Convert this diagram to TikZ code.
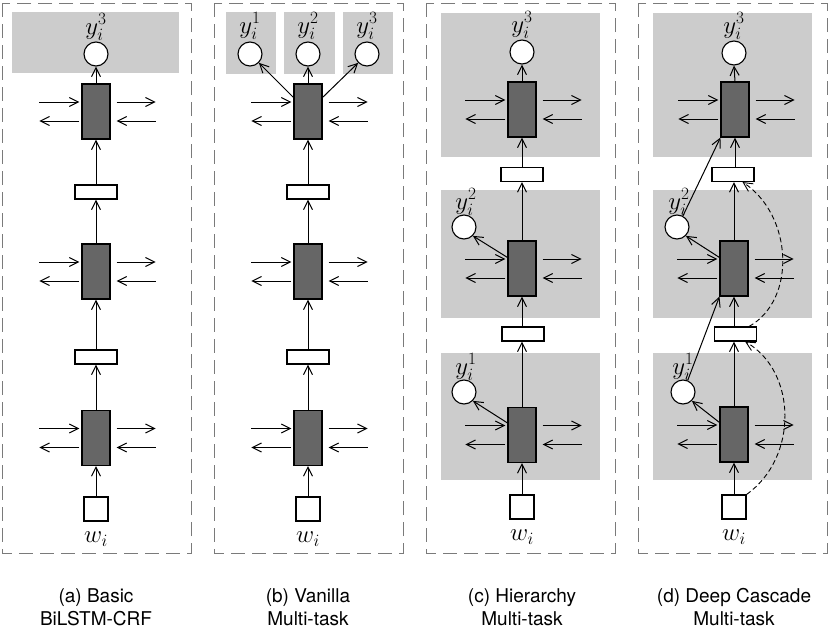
\documentclass[tikz,border=0pt]{standalone}
\usepackage{fontspec}
\newfontfamily\capfont{TeX Gyre Heros}
\usetikzlibrary{arrows.meta,calc}
\definecolor{cellgray}{HTML}{666666}
\definecolor{taskgray}{HTML}{CCCCCC}
\definecolor{bordergray}{HTML}{7A7A7A}
\tikzset{
 lstm/.style={draw, line width=1.1pt, fill=cellgray, minimum width=28pt, minimum height=55pt, inner sep=0pt},
 emb/.style={draw, line width=1.1pt, fill=white, minimum width=42pt, minimum height=14pt, inner sep=0pt},
 inp/.style={draw, line width=1.1pt, fill=white, minimum size=24pt, inner sep=0pt},
 outnode/.style={draw, circle, line width=1.1pt, fill=white, minimum size=24pt, inner sep=0pt},
 arr/.style={line width=1pt, -{Straight Barb[length=9pt,width=9pt]}},
 darr/.style={line width=0.9pt, dash pattern=on 5pt off 3pt, -{Straight Barb[length=9pt,width=9pt]}},
 lab/.style={inner sep=0pt, font=\fontsize{25}{29}\selectfont},
 captext/.style={align=center, inner sep=0pt, font=\capfont\fontsize{19}{23}\selectfont},
 panel/.style={draw=bordergray, line width=1pt, dash pattern=on 14pt off 7pt},
 task/.style={fill=taskgray},
}
\newcommand\lstmcell[3]{%
 \node[lstm] (#1) at (#2,#3) {};
 \draw[arr] ($(#1.west)+(-42,-9.5)$) -- ($(#1.west)+(-2,-9.5)$);
 \draw[arr] ($(#1.west)+(-2,9.5)$) -- ($(#1.west)+(-42,9.5)$);
 \draw[arr] ($(#1.east)+(6,-9.5)$) -- ($(#1.east)+(45,-9.5)$);
 \draw[arr] ($(#1.east)+(45,9.5)$) -- ($(#1.east)+(6,9.5)$);
}
\begin{document}
\begin{tikzpicture}[x=1pt,y=-1pt]
\useasboundingbox (0,0) rectangle (832,629);
\fill[white] (0,0) rectangle (832,629);
% ---------- panel borders ----------
\draw[panel] (2,3) rectangle (191,553);
\draw[panel] (214,3) rectangle (403,553);
\draw[panel] (426,3) rectangle (615,553);
\draw[panel] (638,3) rectangle (827,553);
% ---------- task backgrounds ----------
\fill[task] (12,12) rectangle (179,73);
\fill[task] (226,12) rectangle (276,74);
\fill[task] (284,12) rectangle (335,74);
\fill[task] (343,12) rectangle (393,74);
\fill[task] (441,13) rectangle (600,157);
\fill[task] (441,190) rectangle (600,318);
\fill[task] (441,353) rectangle (600,480);
\fill[task] (653,13) rectangle (812,157);
\fill[task] (653,190) rectangle (812,318);
\fill[task] (653,353) rectangle (812,480);
% ---------- (a) ----------
\node[outnode] (ay3) at (96,54) {};
\node[lab] (ay3l) at (96,27) {$y_i^3$};
\lstmcell{a1}{96}{111.5}
\node[emb] (ae1) at (96,192) {};
\lstmcell{a2}{96}{271.5}
\node[emb] (ae2) at (96,357) {};
\lstmcell{a3}{96}{438}
\node[inp] (ax) at (96,509) {};
\node[lab] (aw) at (96,539) {$w_i$};
\draw[arr] (ax.north) -- (a3.south);
\draw[arr] (a3.north) -- (ae2.south);
\draw[arr] (ae2.north) -- (a2.south);
\draw[arr] (a2.north) -- (ae1.south);
\draw[arr] (ae1.north) -- (a1.south);
\draw[arr] (a1.north) -- (ay3.south);
\node[captext] (acap) at (96,607) {(a) Basic\\BiLSTM-CRF};
% ---------- (b) ----------
\node[outnode] (by1) at (250,54) {};
\node[outnode] (by2) at (308,54) {};
\node[outnode] (by3) at (367,54) {};
\node[lab] (by1l) at (250,26) {$y_i^1$};
\node[lab] (by2l) at (308,26) {$y_i^2$};
\node[lab] (by3l) at (367,26) {$y_i^3$};
\lstmcell{b1}{308}{111.5}
\node[emb] (be1) at (308,192) {};
\lstmcell{b2}{308}{271.5}
\node[emb] (be2) at (308,357) {};
\lstmcell{b3}{308}{438}
\node[inp] (bx) at (308,509) {};
\node[lab] (bw) at (308,539) {$w_i$};
\draw[arr] (bx.north) -- (b3.south);
\draw[arr] (b3.north) -- (be2.south);
\draw[arr] (be2.north) -- (b2.south);
\draw[arr] (b2.north) -- (be1.south);
\draw[arr] (be1.north) -- (b1.south);
\draw[arr] (b1.north) -- (by2.south);
\draw[arr] ($(b1.north west)+(0,14)$) -- (by1.south east);
\draw[arr] ($(b1.north east)+(0,14)$) -- (by3.south west);
\node[captext] (bcap) at (308,607) {(b) Vanilla\\Multi-task};
% ---------- (c) ----------
\node[outnode] (cy3) at (522,52) {};
\node[lab] (cy3l) at (522,25) {$y_i^3$};
\lstmcell{c1}{522}{109.5}
\node[emb] (ce1) at (522,174.5) {};
\node[outnode] (cy2) at (464,227) {};
\node[lab] (cy2l) at (466,202) {$y_i^2$};
\lstmcell{c2}{522}{268.5}
\node[emb] (ce2) at (523,334) {};
\node[outnode] (cy1) at (464,392) {};
\node[lab] (cy1l) at (466,367) {$y_i^1$};
\lstmcell{c3}{522}{435}
\node[inp] (cx) at (522,507) {};
\node[lab] (cw) at (522,537) {$w_i$};
\draw[arr] (cx.north) -- (c3.south);
\draw[arr] (c3.north) -- (c3.north |- ce2.south);
\draw[arr] (c2.south |- ce2.north) -- (c2.south);
\draw[arr] (c2.north) -- (c2.north |- ce1.south);
\draw[arr] (c1.south |- ce1.north) -- (c1.south);
\draw[arr] (c1.north) -- (cy3.south);
\draw[arr] ($(c2.north west)+(0,17)$) -- (cy2.south east);
\draw[arr] ($(c3.north west)+(0,16)$) -- (cy1.south east);
\node[captext] (ccap) at (522,607) {(c) Hierarchy\\Multi-task};
% ---------- (d) ----------
\node[outnode] (dy3) at (734,53) {};
\node[lab] (dy3l) at (734,26) {$y_i^3$};
\lstmcell{d1}{735}{109.5}
\node[emb] (de1) at (733,174.5) {};
\node[outnode] (dy2) at (677,227) {};
\node[lab] (dy2l) at (679,202) {$y_i^2$};
\lstmcell{d2}{734}{268.5}
\node[emb] (de2) at (735.5,334) {};
\node[outnode] (dy1) at (683,392) {};
\node[lab] (dy1l) at (683,367) {$y_i^1$};
\lstmcell{d3}{734}{434.5}
\node[inp] (dx) at (734,507) {};
\node[lab] (dw) at (734,537) {$w_i$};
\draw[arr] (dx.north) -- (d3.south);
\draw[arr] (d3.north) -- (d3.north |- de2.south);
\draw[arr] (d2.south |- de2.north) -- (d2.south);
\draw[arr] (d2.north) -- (d2.north |- de1.south);
\draw[arr] (d1.south |- de1.north) -- (d1.south);
\draw[arr] (d1.north) -- (dy3.south);
\draw[arr] ($(d2.north west)+(0,17)$) -- (dy2.south east);
\draw[arr] ($(d3.north west)+(0,16)$) -- (dy1.south east);
\draw[arr] (dy2.62) -- (d1.south west);
\draw[arr] (dy1.68) -- (d2.south west);
\draw[darr] (dx.north east) .. controls +(52,-37) and +(52,30) .. ($(de2.south east)+(-12,0)$);
\draw[darr] ($(de2.north east)+(-8,0)$) .. controls +(48,-27) and +(50,33) .. ($(de1.south east)+(-12,0)$);
\node[captext] (dcap) at (734,607) {(d) Deep Cascade\\Multi-task};
\end{tikzpicture}
\end{document}
